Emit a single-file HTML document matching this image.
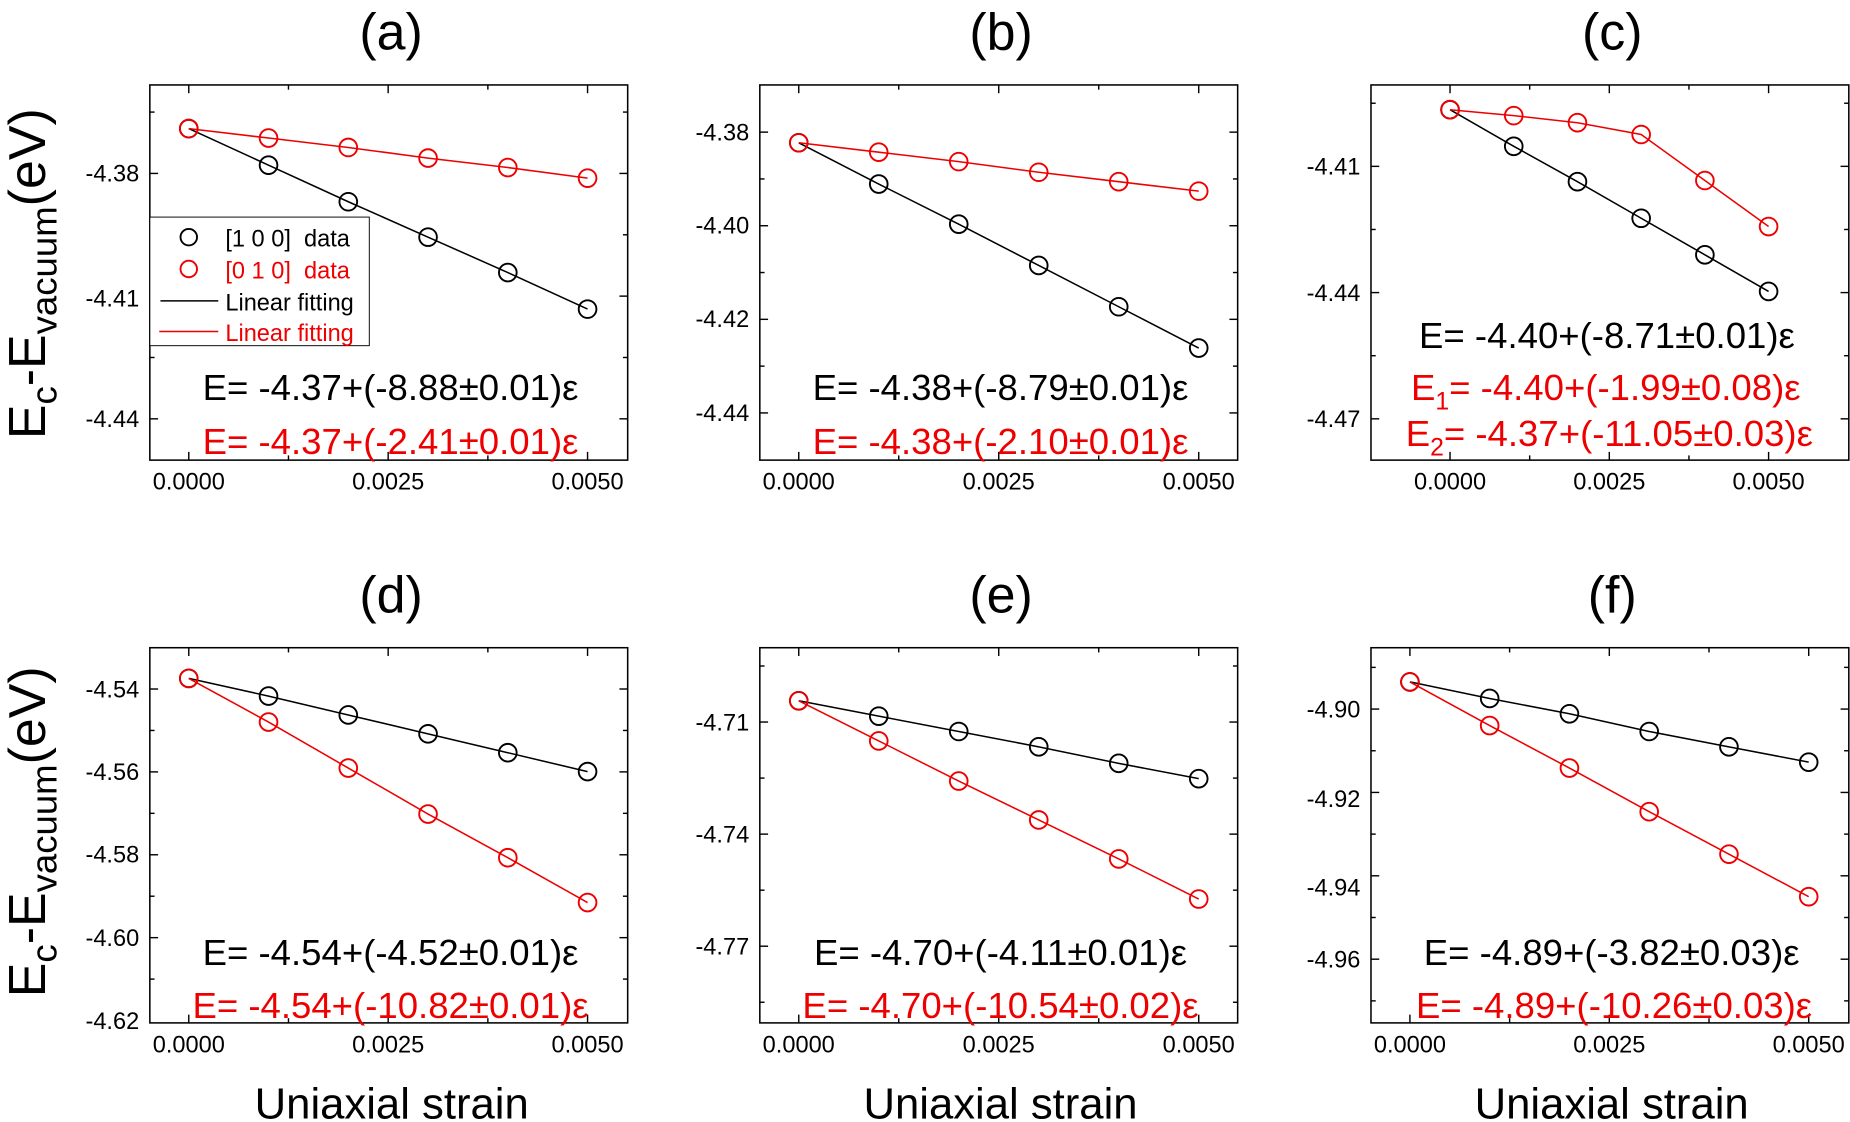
<!DOCTYPE html>
<html><head><meta charset="utf-8"><style>
html,body{margin:0;padding:0;background:#fff;}
svg{display:block;}
text{font-family:"Liberation Sans",Arial,sans-serif;}
</style></head><body>
<svg id="s" width="1850" height="1122" viewBox="0 0 1568 951" preserveAspectRatio="none" xmlns="http://www.w3.org/2000/svg">
<rect width="1568" height="951" fill="#fff"/>
<g id="g"></g>
</svg>
<script>
var g=document.getElementById('g');var h='';
function T(x,y,s,sz,col,anc,extra){h+='<text x="'+x+'" y="'+y+'" font-size="'+sz+'" fill="'+(col||'#000')+'" text-anchor="'+(anc||'middle')+'" '+(extra||'')+'>'+s+'</text>';}
function L(x1,y1,x2,y2,c,w){h+='<line x1="'+x1+'" y1="'+y1+'" x2="'+x2+'" y2="'+y2+'" stroke="'+c+'" stroke-width="'+w+'"/>';}
var panels=[
{l:127,t:72,b:390,x0:160,x5:498,lab:'(a)',yt:[[147,'-4.38'],[253,'-4.41'],[355,'-4.44']],
 bk:[109,140,171,201,231,262],rd:[109,117,125,134,142,151]},
{l:644,t:72,b:390,x0:677,x5:1016,lab:'(b)',yt:[[112,'-4.38'],[191,'-4.40'],[270,'-4.42'],[350,'-4.44']],
 bk:[121,156,190,225,260,295],rd:[121,129,137,146,154,162]},
{l:1162,t:72,b:390,x0:1229,x5:1499,lab:'(c)',yt:[[141,'-4.41'],[248,'-4.44'],[355,'-4.47']],
 bk:[93,124,154,185,216,247],rd:[93,98,104,114,153,192]},
{l:127,t:549,b:867,x0:160,x5:498,lab:'(d)',yt:[[584,'-4.54'],[654,'-4.56'],[724,'-4.58'],[795,'-4.60'],[865,'-4.62']],
 bk:[575,590,606,622,638,654],rd:[575,612,651,690,727,765]},
{l:644,t:549,b:867,x0:677,x5:1016,lab:'(e)',yt:[[612,'-4.71'],[707,'-4.74'],[802,'-4.77']],
 bk:[594,607,620,633,647,660],rd:[594,628,662,695,728,762]},
{l:1162,t:549,b:867,x0:1195,x5:1533,lab:'(f)',yt:[[601,'-4.90'],[677,'-4.92'],[752,'-4.94'],[813,'-4.96']],
 bk:[578,592,605,620,633,646],rd:[578,615,651,688,724,760]}
];
panels.forEach(function(p){
 var r=p.l+405, cx=(p.l+r)/2;
 h+='<rect x="'+p.l+'" y="'+p.t+'" width="405" height="'+(p.b-p.t)+'" fill="none" stroke="#000" stroke-width="1.3"/>';
 T(cx+2,p.t-30,p.lab,44);
 var st=(p.x5-p.x0)/4;
 for(var k=-2;k<=6;k++){var x=p.x0+k*st;if(x<=p.l+3||x>=r-3)continue;var len=(k%2==0)?7:4;
  L(x,p.b,x,p.b-len,'#000',1.2);L(x,p.t,x,p.t+len,'#000',1.2);}
 [0,2,4].forEach(function(k,i){T(p.x0+k*st,p.b+25,['0.0000','0.0025','0.0050'][i],20);});
 var yt=p.yt, sp=(yt[yt.length-1][0]-yt[0][0])/(yt.length-1)/2;
 for(var y=yt[0][0]-sp*4;y<p.b;y+=sp){if(y<=p.t+3||y>=p.b-3)continue;
  var maj=Math.round((y-yt[0][0])/sp)%2==0;var len=maj?7:4;
  L(p.l,y,p.l+len,y,'#000',1.2);L(r,y,r-len,y,'#000',1.2);}
 yt.forEach(function(q){T(p.l-9,q[0]+7,q[1],20,'#000','end');});
 function ser(ys,c){var pts=[];for(var i=0;i<6;i++){pts.push((p.x0+i*(p.x5-p.x0)/5)+','+ys[i]);}
  h+='<polyline points="'+pts.join(' ')+'" fill="none" stroke="'+c+'" stroke-width="1.3"/>';
  for(var i=0;i<6;i++){h+='<circle cx="'+(p.x0+i*(p.x5-p.x0)/5)+'" cy="'+ys[i]+'" r="7.5" fill="none" stroke="'+c+'" stroke-width="1.6"/>';}}
 ser(p.bk,'#000');ser(p.rd,'#e00');
});
[332,848,1366].forEach(function(x){T(x,948,'Uniaxial strain',37);});
[232,705].forEach(function(y){h+='<text x="0" y="0" font-size="44" text-anchor="middle" transform="translate(38,'+y+') rotate(-90)">E<tspan font-size="31" dy="10">c</tspan><tspan dy="-10">-E</tspan><tspan font-size="31" dy="10">vacuum</tspan><tspan dy="-10">(eV)</tspan></text>';});
var R='#e00';
T(331,339,'E= -4.37+(-8.88±0.01)ε',31);
T(331,385,'E= -4.37+(-2.41±0.01)ε',31,R);
T(848,339,'E= -4.38+(-8.79±0.01)ε',31);
T(848,385,'E= -4.38+(-2.10±0.01)ε',31,R);
T(1362,295,'E= -4.40+(-8.71±0.01)ε',31);
h+='<text x="1361" y="339" font-size="31" fill="#e00" text-anchor="middle">E<tspan font-size="21" dy="8">1</tspan><tspan dy="-8">= -4.40+(-1.99±0.08)ε</tspan></text>';
h+='<text x="1364" y="378" font-size="31" fill="#e00" text-anchor="middle">E<tspan font-size="21" dy="8">2</tspan><tspan dy="-8">= -4.37+(-11.05±0.03)ε</tspan></text>';
T(331,818,'E= -4.54+(-4.52±0.01)ε',31);
T(331,863,'E= -4.54+(-10.82±0.01)ε',31,R);
T(848,818,'E= -4.70+(-4.11±0.01)ε',31);
T(848,863,'E= -4.70+(-10.54±0.02)ε',31,R);
T(1366,818,'E= -4.89+(-3.82±0.03)ε',31);
T(1368,863,'E= -4.89+(-10.26±0.03)ε',31,R);
h+='<rect x="127" y="184" width="186" height="109" fill="#fff" stroke="#000" stroke-width="0.8"/>';
h+='<circle cx="160" cy="201" r="7" fill="none" stroke="#000" stroke-width="1.6"/>';
h+='<circle cx="160" cy="228" r="7" fill="none" stroke="#e00" stroke-width="1.6"/>';
L(136,255,185,255,'#000',1.3);L(135,281,185,281,'#e00',1.3);
T(191,209,'[1 0 0]&#160;&#160;data',20,'#000','start');
T(191,236,'[0 1 0]&#160;&#160;data',20,R,'start');
T(191,263,'Linear fitting',20,'#000','start');
T(191,289,'Linear fitting',20,R,'start');
g.innerHTML=h;
</script>
</body></html>
